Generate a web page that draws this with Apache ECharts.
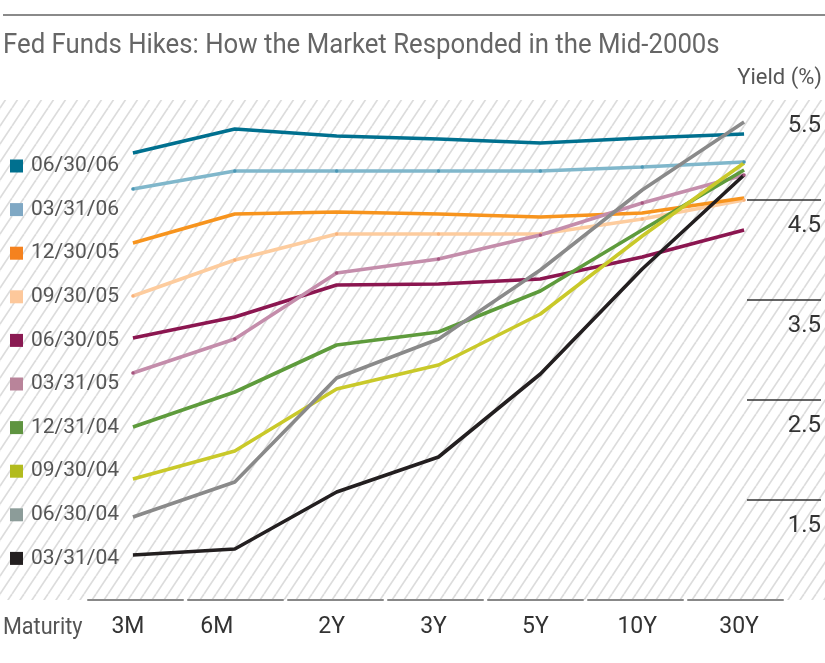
<!DOCTYPE html>
<html>
<head>
<meta charset="utf-8">
<script src="https://cdn.jsdelivr.net/npm/echarts@6/dist/echarts.min.js"></script>
<style>
html,body{margin:0;padding:0;background:#fff;}
#chart{width:825px;height:663px;}
</style>
</head>
<body>
<div id="chart"></div>
<script>
const categories = ['3M', '6M', '2Y', '3Y', '5Y', '10Y', '30Y'];
const seriesNames = ['06/30/06', '03/31/06', '12/30/05', '09/30/05', '06/30/05', '03/31/05', '12/31/04', '09/30/04', '06/30/04', '03/31/04'];
const y063006 = [4.97, 5.21, 5.14, 5.11, 5.07, 5.12, 5.16];
const y033106 = [4.61, 4.79, 4.79, 4.79, 4.79, 4.83, 4.88];
const y123005 = [4.07, 4.36, 4.38, 4.36, 4.33, 4.37, 4.52];
const y093005 = [3.54, 3.90, 4.16, 4.16, 4.16, 4.31, 4.50];
const y063005 = [3.12, 3.33, 3.65, 3.66, 3.71, 3.93, 4.20];
const y033105 = [2.77, 3.11, 3.77, 3.91, 4.15, 4.47, 4.75];
const y123104 = [2.23, 2.58, 3.05, 3.18, 3.59, 4.20, 4.80];
const y093004 = [1.71, 1.99, 2.61, 2.85, 3.36, 4.14, 4.87];
const y063004 = [1.33, 1.68, 2.72, 3.11, 3.80, 4.60, 5.28];
const y033104 = [0.95, 1.01, 1.58, 1.93, 2.76, 3.81, 4.75];
const yTickLines = [1.5, 2.5, 3.5, 4.5];
const yTickLabels = [1.5, 2.5, 3.5, 4.5, 5.5];

const FONT = "'Liberation Sans Narrow', 'Roboto', 'Liberation Sans', sans-serif";

const styles = {
  '06/30/06': {line: '#00708f', legend: '#00708f'},
  '03/31/06': {line: '#80b7cb', legend: '#7fa8c4', dot: '#4b97b5'},
  '12/30/05': {line: '#f7941e', legend: '#f5821f'},
  '09/30/05': {line: '#fdcc9e', legend: '#fdc89b', dot: '#f8b27c'},
  '06/30/05': {line: '#8b1650', legend: '#8a1a52'},
  '03/31/05': {line: '#c48dab', legend: '#b9849a', dot: '#a6557f'},
  '12/31/04': {line: '#5e9b3c', legend: '#5f9440'},
  '09/30/04': {line: '#c9c92a', legend: '#b2bb1e'},
  '06/30/04': {line: '#8a8a8a', legend: '#8c9c99'},
  '03/31/04': {line: '#231f20', legend: '#231f20'}
};
const dataByName = {
  '06/30/06': y063006, '03/31/06': y033106, '12/30/05': y123005, '09/30/05': y093005,
  '06/30/05': y063005, '03/31/05': y033105, '12/31/04': y123104, '09/30/04': y093004,
  '06/30/04': y063004, '03/31/04': y033104
};
// drawing order (later on top): peach under orange
const drawOrder = ['06/30/06', '03/31/06', '09/30/05', '12/30/05', '06/30/05', '03/31/05', '12/31/04', '09/30/04', '06/30/04', '03/31/04'];

// hatch pattern
const pc = document.createElement('canvas');
pc.width = 12; pc.height = 18;
const ctx = pc.getContext('2d');
ctx.strokeStyle = '#dcdcdc';
ctx.lineWidth = 1.7;
[-12, 0, 12].forEach(function (dx) {
  ctx.beginPath();
  ctx.moveTo(dx, 18);
  ctx.lineTo(dx + 12, 0);
  ctx.stroke();
});

const chart = echarts.init(document.getElementById('chart'), null, {renderer: 'canvas'});

const series = drawOrder.map(function (name) {
  const st = styles[name];
  return {
    name: name,
    type: 'line',
    data: dataByName[name],
    symbol: st.dot ? 'circle' : 'none',
    symbolSize: 3.5,
    showSymbol: !!st.dot,
    itemStyle: {color: st.dot || st.line, borderWidth: 0},
    lineStyle: {color: st.line, width: 3.6},
    color: st.line,
    emphasis: {disabled: true},
    animation: false
  };
});

const option = {
  backgroundColor: '#ffffff',
  animation: false,
  graphic: [
    {type: 'rect', z: -10, silent: true, shape: {x: 0, y: 100, width: 825, height: 500},
     style: {fill: {image: pc, repeat: 'repeat'}}},
    {type: 'line', z: 5, silent: true, shape: {x1: 3, y1: 15, x2: 825, y2: 15},
     style: {stroke: '#8a8a8a', lineWidth: 2}},
    {type: 'text', z: 5, silent: true, x: 3, y: 32, scaleX: 0.92, scaleY: 1,
     style: {text: 'Fed Funds Hikes: How the Market Responded in the Mid-2000s', fill: '#666666',
             font: '28px ' + FONT}},
    {type: 'text', z: 5, silent: true, x: 822, y: 67,
     style: {text: 'Yield (%)', fill: '#555555', font: '22px ' + FONT, align: 'right'}},
    {type: 'text', z: 5, silent: true, x: 3, y: 616, scaleX: 0.9,
     style: {text: 'Maturity', fill: '#555555', font: '24px ' + FONT}}
  ],
  legend: {
    orient: 'vertical',
    left: 5,
    top: 149,
    itemWidth: 13,
    itemHeight: 13,
    itemGap: 19.6,
    icon: 'rect',
    selectedMode: false,
    textStyle: {fontFamily: FONT, fontSize: 21, lineHeight: 24, color: '#555555', padding: [0, 0, 0, 3]},
    data: seriesNames.map(function (n) {
      return {name: n, icon: 'rect', itemStyle: {color: styles[n].legend, borderWidth: 0}};
    })
  },
  grid: {left: 82, right: 30, top: 100, bottom: 63, containLabel: false},
  xAxis: [{
    type: 'category',
    data: categories,
    boundaryGap: true,
    axisLine: {show: false},
    axisTick: {show: false},
    axisLabel: {
      fontFamily: FONT, fontSize: 23, color: '#333333', margin: 16,
      formatter: function (v) { return v === '6M' ? '{s|' + v + '}' : '{n|' + v + '}'; },
      rich: {
        n: {fontFamily: FONT, fontSize: 23, color: '#333333', padding: [0, 10, 0, 0]},
        s: {fontFamily: FONT, fontSize: 23, color: '#333333', padding: [0, 36, 0, 0]}
      }
    }
  }],
  yAxis: [{
    type: 'value',
    min: 0.5,
    max: 5.5,
    interval: 1,
    position: 'right',
    offset: 26,
    splitLine: {show: false},
    axisLine: {show: false},
    axisTick: {show: true, inside: true, length: 74, customValues: yTickLines,
               lineStyle: {color: '#333333', width: 1.5}},
    axisLabel: {inside: true, margin: 0, customValues: yTickLabels, fontFamily: FONT, fontSize: 24,
                color: '#333333', verticalAlign: 'top', lineHeight: 24, padding: [14, 0, 0, 0],
                formatter: function (v) { return v.toFixed(1); }}
  }],
  series: series
};
chart.setOption(option);

// x-axis segments: a second, decoration-only category axis
chart.setOption({
  grid: [option.grid, {left: 88, right: 37, top: 100, bottom: 63}],
  xAxis: [option.xAxis[0], {
    type: 'category', gridIndex: 1, data: categories, boundaryGap: true,
    axisLine: {show: true, lineStyle: {color: '#888888', width: 2, type: [95, 5]}},
    axisTick: {show: false}, axisLabel: {show: false}
  }],
  yAxis: [option.yAxis[0], {type: 'value', gridIndex: 1, min: 0.5, max: 5.5, show: false}]
});
</script>
</body>
</html>
